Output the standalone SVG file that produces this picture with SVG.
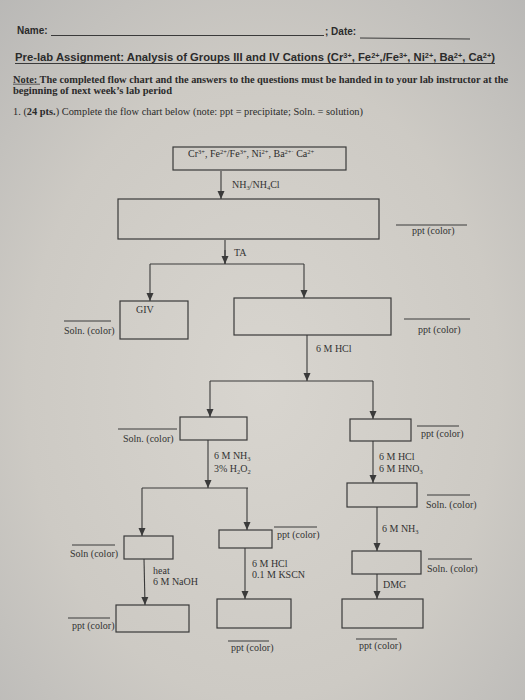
<svg xmlns="http://www.w3.org/2000/svg" width="525" height="700" viewBox="0 0 525 700">
<defs>
<radialGradient id="bg" cx="0.5" cy="0.55" r="0.75">
<stop offset="0" stop-color="#d8d5cf"/>
<stop offset="0.6" stop-color="#cdcac4"/>
<stop offset="1" stop-color="#b9b8b6"/>
</radialGradient>
<marker id="ah" viewBox="0 0 8 10" refX="8" refY="5" markerWidth="8" markerHeight="10" markerUnits="userSpaceOnUse" orient="auto">
<path d="M0,1.5 L8,5 L0,8.5 Z" fill="#3a3a3a"/>
</marker>
<style>
.hd{font-family:"Liberation Sans",Arial,sans-serif;font-weight:bold;font-size:10px;fill:#2b2b2b}
.nt{font-family:"Liberation Serif","Times New Roman",serif;font-weight:bold;font-size:10.5px;fill:#2b2b2b}
.tx{font-family:"Liberation Serif","Times New Roman",serif;font-size:10px;fill:#2b2b2b}
.lb{font-family:"Liberation Serif","Times New Roman",serif;font-size:10px;fill:#333}
.box{fill:none;stroke:#3a3a3a;stroke-width:1.2}
.ln{fill:none;stroke:#3a3a3a;stroke-width:1.1}
.ar{fill:none;stroke:#3a3a3a;stroke-width:1.1;marker-end:url(#ah)}
.bl{stroke:#3a3a3a;stroke-width:1}
.sup{font-size:6.5px}
</style>
</defs>
<rect x="0" y="0" width="525" height="700" fill="url(#bg)"/>

<g id="header">
<text class="hd" x="17" y="34">Name:</text>
<line class="bl" x1="51" y1="35.5" x2="324" y2="35.5"/>
<text class="hd" x="325" y="35">; Date:</text>
<line class="bl" x1="360" y1="38" x2="470" y2="39"/>
<text class="hd" x="15" y="61" textLength="480" lengthAdjust="spacingAndGlyphs">Pre-lab Assignment: Analysis of Groups III and IV Cations (Cr<tspan class="sup" dy="-3.5">3+</tspan><tspan dy="3.5">, Fe</tspan><tspan class="sup" dy="-3.5">2+</tspan><tspan dy="3.5">,/Fe</tspan><tspan class="sup" dy="-3.5">3+</tspan><tspan dy="3.5">, Ni</tspan><tspan class="sup" dy="-3.5">2+</tspan><tspan dy="3.5">, Ba</tspan><tspan class="sup" dy="-3.5">2+</tspan><tspan dy="3.5">, Ca</tspan><tspan class="sup" dy="-3.5">2+</tspan><tspan dy="3.5">)</tspan></text>
<line class="bl" x1="15" y1="63.5" x2="495" y2="63.5"/>
<text class="nt" x="13" y="82.5" textLength="495" lengthAdjust="spacingAndGlyphs">Note: The completed flow chart and the answers to the questions must be handed in to your lab instructor at the</text>
<line x1="13" y1="84.2" x2="40" y2="84.2" stroke="#3a3a3a" stroke-width="0.8"/>
<text class="nt" x="13" y="93.5" textLength="159" lengthAdjust="spacingAndGlyphs">beginning of next week’s lab period</text>
<text class="tx" x="13" y="115" textLength="350" lengthAdjust="spacingAndGlyphs">1. (<tspan font-weight="bold">24 pts.</tspan>) Complete the flow chart below (note: ppt = precipitate; Soln. = solution)</text>
</g>

<g id="connectors">
<line class="ar" x1="221" y1="171" x2="221" y2="199"/>
<line class="ln" x1="225" y1="240" x2="225" y2="264"/>
<line class="ar" x1="225" y1="250" x2="225" y2="264"/>
<polyline class="ln" points="150,264 304,264"/>
<line class="ar" x1="150" y1="264" x2="150" y2="301"/>
<line class="ar" x1="304" y1="264" x2="304" y2="298"/>
<line class="ar" x1="307" y1="335" x2="307" y2="381"/>
<polyline class="ln" points="210,381 373,381"/>
<line class="ar" x1="210" y1="381" x2="210" y2="417"/>
<line class="ar" x1="373" y1="381" x2="373" y2="419"/>
<line class="ar" x1="208" y1="440" x2="208" y2="488"/>
<polyline class="ln" points="142,488 248,488"/>
<line class="ar" x1="142" y1="488" x2="142" y2="536"/>
<line class="ar" x1="247" y1="488" x2="247" y2="530"/>
<line class="ar" x1="373" y1="441" x2="373" y2="483"/>
<line class="ar" x1="377" y1="507" x2="377" y2="551"/>
<line class="ar" x1="377" y1="574" x2="377" y2="599"/>
<line class="ar" x1="144" y1="559" x2="145" y2="605"/>
<line class="ar" x1="245" y1="548" x2="245" y2="599"/>
</g>

<g id="n-start">
<rect class="box" x="173" y="147" width="173" height="23"/>
<text class="tx" x="188" y="157" font-size="10.5">Cr<tspan class="sup" dy="-3.5">3+</tspan><tspan dy="3.5">, Fe</tspan><tspan class="sup" dy="-3.5">2+</tspan><tspan dy="3.5">/Fe</tspan><tspan class="sup" dy="-3.5">3+</tspan><tspan dy="3.5">, Ni</tspan><tspan class="sup" dy="-3.5">2+</tspan><tspan dy="3.5">, Ba</tspan><tspan class="sup" dy="-3.5">2+·</tspan><tspan dy="3.5"> Ca</tspan><tspan class="sup" dy="-3.5">2+</tspan></text>
</g>
<g id="l-nh3">
<text class="lb" x="232" y="188">NH<tspan font-size="6.5" dy="2">3</tspan><tspan dy="-2">/NH</tspan><tspan font-size="6.5" dy="2">4</tspan><tspan dy="-2">Cl</tspan></text>
</g>

<g id="n-ppt1">
<rect class="box" x="118" y="199" width="261" height="40"/>
<line class="bl" x1="396" y1="225" x2="467" y2="225"/>
<text class="lb" x="412" y="234">ppt (color)</text>
</g>
<text class="lb" x="234" y="256">TA</text>

<g id="n-giv">
<rect class="box" x="120" y="301" width="68" height="38"/>
<text class="lb" x="136" y="313">GIV</text>
<line class="bl" x1="64" y1="321" x2="111" y2="321"/>
<text class="lb" x="64" y="334">Soln. (color)</text>
</g>

<g id="n-ppt2">
<rect class="box" x="234" y="298" width="157" height="37"/>
<line class="bl" x1="404" y1="319" x2="470" y2="319"/>
<text class="lb" x="418" y="333">ppt (color)</text>
</g>
<text class="lb" x="316" y="352">6 M HCl</text>

<g id="n-soln3">
<rect class="box" x="180" y="417" width="67" height="23"/>
<line class="bl" x1="118" y1="429" x2="177" y2="429"/>
<text class="lb" x="123" y="442">Soln. (color)</text>
</g>
<text class="lb" x="214" y="459">6 M NH<tspan font-size="6.5" dy="2">3</tspan></text>
<text class="lb" x="214" y="472">3% H<tspan font-size="6.5" dy="2">2</tspan><tspan dy="-2">O</tspan><tspan font-size="6.5" dy="2">2</tspan></text>

<g id="n-ppt3">
<rect class="box" x="350" y="419" width="61" height="22"/>
<line class="bl" x1="417" y1="426" x2="459" y2="426"/>
<text class="lb" x="421" y="437">ppt (color)</text>
</g>
<text class="lb" x="379" y="460">6 M HCl</text>
<text class="lb" x="379" y="472">6 M HNO<tspan font-size="6.5" dy="2">3</tspan></text>

<g id="n-soln4">
<rect class="box" x="347" y="483" width="70" height="24"/>
<line class="bl" x1="427" y1="495" x2="470" y2="495"/>
<text class="lb" x="426" y="508">Soln. (color)</text>
</g>
<text class="lb" x="382" y="532">6 M NH<tspan font-size="6.5" dy="2">3</tspan></text>

<g id="n-soln5">
<rect class="box" x="124" y="536" width="49" height="23"/>
<line class="bl" x1="72" y1="545" x2="115" y2="545"/>
<text class="lb" x="70" y="557">Soln  (color)</text>
</g>
<text class="lb" x="153" y="574">heat</text>
<text class="lb" x="153" y="585">6 M NaOH</text>

<g id="n-ppt5">
<rect class="box" x="219" y="530" width="53" height="18"/>
<line class="bl" x1="274" y1="527" x2="317" y2="527"/>
<text class="lb" x="277" y="538">ppt (color)</text>
</g>
<text class="lb" x="252" y="567">6 M HCl</text>
<text class="lb" x="252" y="578">0.1 M KSCN</text>

<g id="n-soln6">
<rect class="box" x="352" y="551" width="69" height="23"/>
<line class="bl" x1="428" y1="559" x2="472" y2="559"/>
<text class="lb" x="427" y="572">Soln. (color)</text>
</g>
<text class="lb" x="383" y="588">DMG</text>

<g id="n-ppt6">
<rect class="box" x="116" y="605" width="73" height="27"/>
<line class="bl" x1="68" y1="618" x2="110" y2="618"/>
<text class="lb" x="72" y="629">ppt (color)</text>
</g>

<g id="n-ppt7">
<rect class="box" x="217" y="599" width="74" height="29"/>
<line class="bl" x1="228" y1="641" x2="269" y2="641"/>
<text class="lb" x="231" y="651">ppt (color)</text>
</g>

<g id="n-ppt8">
<rect class="box" x="342" y="599" width="81" height="29"/>
<line class="bl" x1="356" y1="639" x2="397" y2="639"/>
<text class="lb" x="359" y="649">ppt (color)</text>
</g>
</svg>
